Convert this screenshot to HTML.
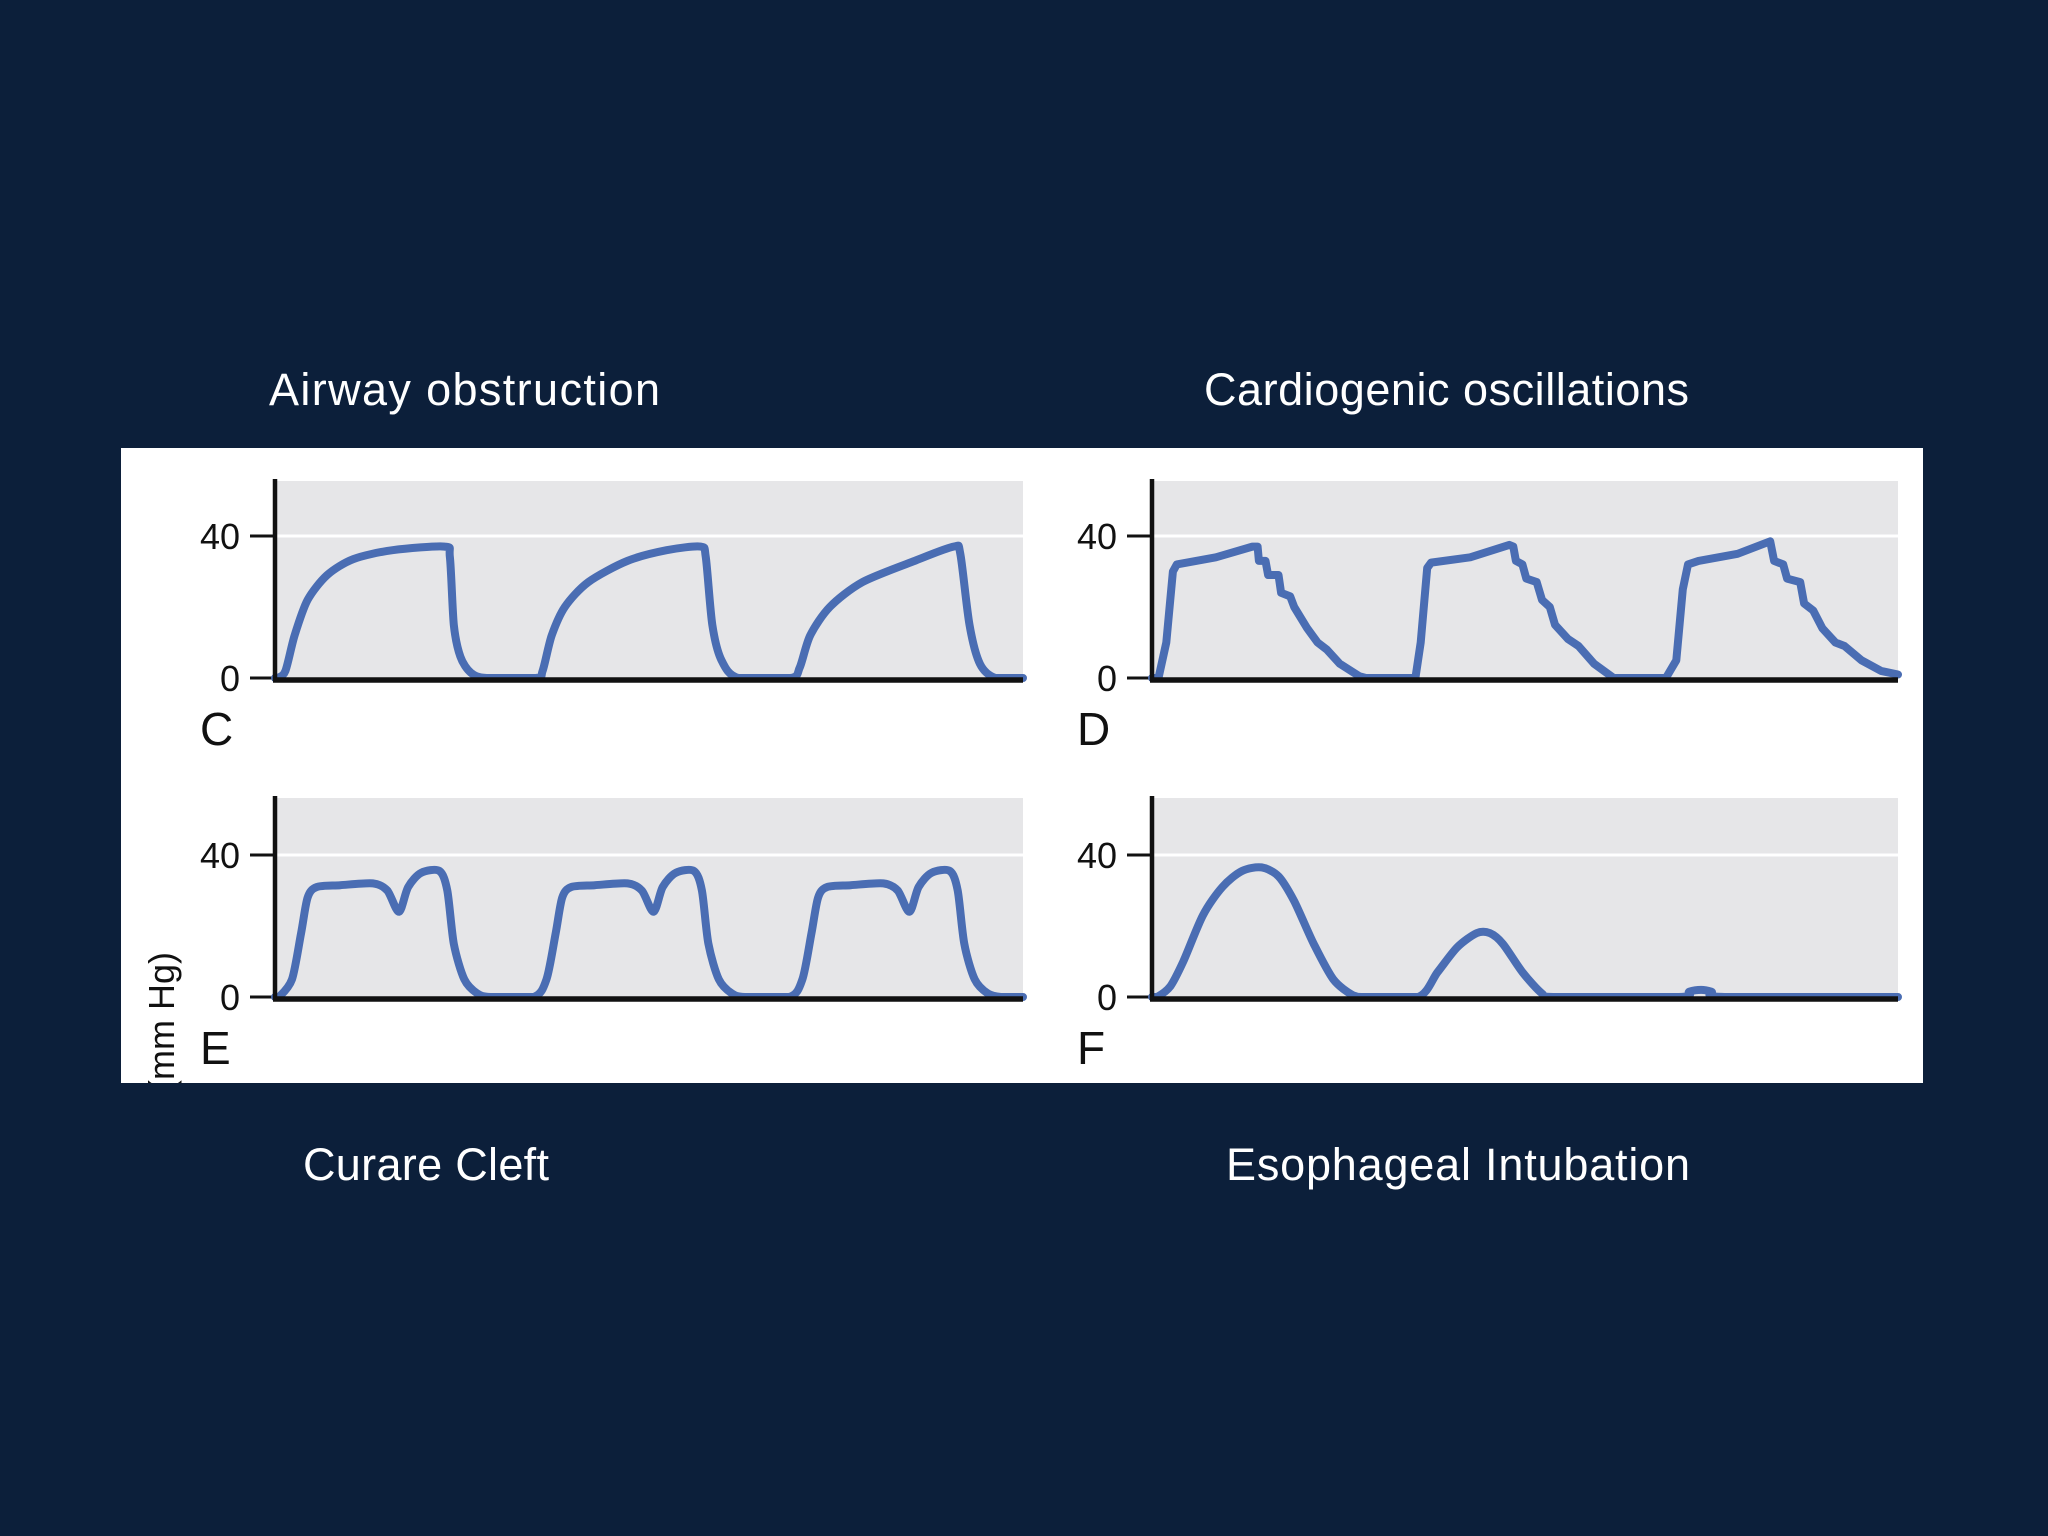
<!DOCTYPE html>
<html><head><meta charset="utf-8"><style>
html,body{margin:0;padding:0;background:#0c1f3a;}
svg{display:block;}
text{font-family:"Liberation Sans",sans-serif;}
</style></head><body>
<svg id="fig" width="2048" height="1536" viewBox="0 0 2048 1536">
<rect x="0" y="0" width="2048" height="1536" fill="#0c1f3a"/>
<text x="269" y="405" font-size="45" fill="#ffffff" textLength="391">Airway obstruction</text>
<text x="1204" y="405" font-size="45" fill="#ffffff" textLength="485">Cardiogenic oscillations</text>
<text x="303" y="1180" font-size="45" fill="#ffffff" textLength="246">Curare Cleft</text>
<text x="1226" y="1180" font-size="45" fill="#ffffff" textLength="464">Esophageal Intubation</text>
<rect x="121" y="448" width="1802" height="635" fill="#ffffff"/>
<g id="charts"></g>
<clipPath id="pclip"><rect x="121" y="448" width="1802" height="635"/></clipPath>
<g clip-path="url(#pclip)">
<text transform="translate(174,1022) rotate(-90)" font-size="36" fill="#111" text-anchor="middle">(mm Hg)</text>
</g>
</svg>
<script>
// Panel C: airway obstruction
const cTimes=[0,2,8,15,25,40,60,90,130,134,137,142,150,162,200,205,212,222,240,270,300,326,330,335,342,355,395,402,410,425,450,490,520,525,532,540,552,573];
const cValues=[0,0,2,12,22,29,33.5,36,37,34,15,6,1.5,0,0,2,12,20,27,33,36,37,34,15,5,0,0,3,12,20,27,33,37,35,15,4,0,0];
// Panel D: cardiogenic oscillations
const dTimes=[0,5,11,16,19,49,77,81,82,87,89,97,99,106,109,119,127,134,144,159,164,202,206,211,214,244,274,277,279,284,287,295,299,305,309,319,327,339,354,394,402,407,411,419,449,474,477,484,487,497,500,507,514,524,531,544,559,572];
const dValues=[0,0,10,30,32,34,37,37,33,33,29,29,24,23,20,14,10,8,4,0.5,0,0,10,31,32.5,34,37.5,37,33,32,28,27,22,20,15,11,9,4,0,0,5,25,32,33,35,38.5,33,32,28,27,21,19,14,10,9,5,2,1];
// Panel E: curare cleft
const eTimes=[0,3,13,20,25,32,50,75,86,95,102,112,126,132,137,145,155,165,198,208,215,220,227,245,270,281,290,297,307,321,327,332,340,350,360,394,404,411,416,423,441,466,477,486,493,503,517,523,528,536,546,556,573];
const eValues=[0,0,5,18,28,31,31.5,32,30,24,31,35,35.5,30,15,5,1,0,0,5,18,28,31,31.5,32,30,24,31,35,35.5,30,15,5,1,0,0,5,18,28,31,31.5,32,30,24,31,35,35.5,30,15,5,1,0,0];
// Panel F: esophageal intubation
const fTimes=[0,4,14,24,39,54,69,84,97,109,124,139,154,164,204,219,234,249,259,269,284,299,309,404,412,421,429,439,572];
const fValues=[0,0,3,10,23,31,35.5,36.5,34,27,15,5,0.5,0,0,7,14,18,18,15,7,1,0,0,1.5,2,1.5,0,0];
const yTicks=[0,40];
const panelLabels=['C','D','E','F'];

const NS='http://www.w3.org/2000/svg';
const g=document.getElementById('charts');
function mk(tag,attrs){const e=document.createElementNS(NS,tag);for(const k in attrs)e.setAttribute(k,attrs[k]);g.appendChild(e);return e;}
function smoothPath(pts,y0){
  let d='M'+pts[0][0]+','+pts[0][1];
  for(let i=0;i<pts.length-1;i++){
    const p0=pts[Math.max(0,i-1)],p1=pts[i],p2=pts[i+1],p3=pts[Math.min(pts.length-1,i+2)];
    const t=0.14;
    const c1x=p1[0]+(p2[0]-p0[0])*t,c1y=Math.min(y0,p1[1]+(p2[1]-p0[1])*t);
    const c2x=p2[0]-(p3[0]-p1[0])*t,c2y=Math.min(y0,p2[1]-(p3[1]-p1[1])*t);
    d+=' C'+c1x.toFixed(1)+','+c1y.toFixed(1)+' '+c2x.toFixed(1)+','+c2y.toFixed(1)+' '+p2[0].toFixed(1)+','+p2[1].toFixed(1);
  }
  return d;
}
function panel(key,x0,x1,top,y0,y40,times,values,smooth){
  const tMax=times[times.length-1];
  const xs=t=>x0+ (t/tMax)*(x1-x0);
  const ys=v=>y0-(v/40)*(y0-y40);
  const bg=mk('rect',{x:x0,y:top,width:x1-x0,height:y0-top,fill:'#e6e6e8'});
  
  
  const gl=mk('line',{x1:x0,x2:x1,y1:ys(40),y2:ys(40),stroke:'#ffffff','stroke-width':3});
  
  
  yTicks.forEach(v=>{
    const tk=mk('line',{x1:x0-25,x2:x0,y1:ys(v),y2:ys(v),stroke:'#111','stroke-width':3});
    
    
    const tl=mk('text',{x:x0-35,y:ys(v)+13,'font-size':36,'text-anchor':'end',fill:'#111'});
    tl.textContent=String(v);
    
    
  });
  const pts=times.map((t,i)=>[xs(t),ys(values[i])]);
  const d=smooth?smoothPath(pts,y0):'M'+pts.map(p=>p[0].toFixed(1)+','+p[1].toFixed(1)).join(' L');
  const ln=mk('path',{d:d,fill:'none',stroke:'#4a6db3','stroke-width':8,'stroke-linejoin':'round','stroke-linecap':'round'});
  
  
  const ya=mk('line',{x1:x0,x2:x0,y1:top-2,y2:y0+3,stroke:'#111','stroke-width':4.5});
  
  
  const xa=mk('line',{x1:x0-2,x2:x1,y1:y0+2,y2:y0+2,stroke:'#111','stroke-width':5.5});
  
  
  const lb=mk('text',{x:x0-75,y:y0+67,'font-size':46,fill:'#111'});
  lb.textContent=key;
  
  
}
panel(panelLabels[0],275,1023,481,678,536,cTimes,cValues,true);
panel(panelLabels[1],1152,1898,481,678,536,dTimes,dValues,false);
panel(panelLabels[2],275,1023,798,997,855,eTimes,eValues,true);
panel(panelLabels[3],1152,1898,798,997,855,fTimes,fValues,true);
</script>
</body></html>
